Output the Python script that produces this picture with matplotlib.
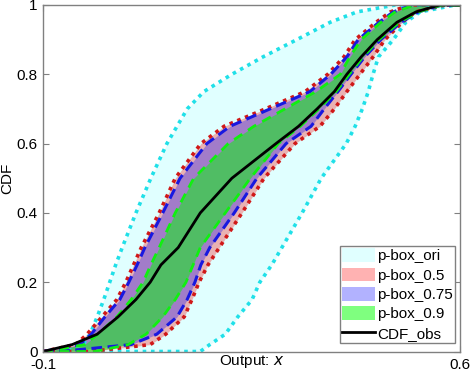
import numpy as np
import matplotlib
matplotlib.use("Agg")
import matplotlib.pyplot as plt
from matplotlib.patches import Patch
from matplotlib.lines import Line2D

plt.rcParams['font.family'] = ['Liberation Sans', 'DejaVu Sans']

# CDF levels, and the x value (quantile) of each bound at that level
p = [0, 0.02, 0.05, 0.1, 0.15, 0.2, 0.25, 0.3, 0.4, 0.5, 0.6, 0.65, 0.7, 0.75, 0.8, 0.85, 0.9, 0.95, 0.98, 1.0]

ori_lo = [-0.088, -0.033, -0.021, -0.009, 0.002, 0.012, 0.022, 0.033, 0.056, 0.081, 0.108, 0.125, 0.142, 0.170, 0.217, 0.269, 0.326, 0.382, 0.427, 0.491]
ori_hi = [0.164, 0.180, 0.206, 0.227, 0.251, 0.264, 0.284, 0.301, 0.335, 0.367, 0.409, 0.424, 0.436, 0.446, 0.454, 0.463, 0.488, 0.509, 0.533, 0.592]

b50_lo = [-0.100, -0.045, -0.026, -0.001, 0.024, 0.039, 0.052, 0.065, 0.095, 0.122, 0.165, 0.204, 0.273, 0.340, 0.378, 0.405, 0.424, 0.459, 0.483, 0.516]
b50_hi = [-0.021, 0.080, 0.106, 0.137, 0.150, 0.162, 0.177, 0.196, 0.234, 0.271, 0.323, 0.365, 0.389, 0.410, 0.432, 0.454, 0.474, 0.503, 0.525, 0.575]

b75_lo = [-0.100, -0.038, -0.019, 0.004, 0.029, 0.044, 0.058, 0.071, 0.101, 0.130, 0.175, 0.214, 0.281, 0.348, 0.383, 0.410, 0.429, 0.464, 0.488, 0.519]
b75_hi = [-0.071, 0.048, 0.091, 0.125, 0.142, 0.155, 0.165, 0.180, 0.221, 0.259, 0.308, 0.350, 0.372, 0.395, 0.417, 0.440, 0.467, 0.501, 0.530, 0.570]

b90_lo = [-0.097, -0.030, -0.008, 0.024, 0.048, 0.068, 0.081, 0.095, 0.122, 0.153, 0.211, 0.254, 0.306, 0.358, 0.399, 0.415, 0.434, 0.467, 0.491, 0.523]
b90_hi = [-0.013, 0.043, 0.073, 0.101, 0.122, 0.140, 0.152, 0.164, 0.206, 0.248, 0.295, 0.332, 0.363, 0.392, 0.414, 0.437, 0.464, 0.498, 0.530, 0.570]

cdf_obs = [-0.100, -0.051, -0.009, 0.026, 0.056, 0.080, 0.098, 0.127, 0.164, 0.217, 0.291, 0.329, 0.360, 0.389, 0.410, 0.434, 0.461, 0.494, 0.526, 0.566]

labels = ['p-box_ori', 'p-box_0.5', 'p-box_0.75', 'p-box_0.9', 'CDF_obs']
xlim = [-0.1, 0.6]


def ext(x):
    # extend a CDF flat to the axis limits (0 on the left, 1 on the right)
    return np.r_[xlim[0], x, xlim[1]], np.r_[0, p, 1]


fig = plt.figure(figsize=(4.74, 3.81), dpi=100)
ax = fig.add_axes([0.0907, 0.0774, 0.8798, 0.9095])

# fills, widest first
ax.fill_betweenx(p, ori_lo, ori_hi, color='cyan', alpha=0.12, lw=0)
ax.fill_betweenx(p, b50_lo, b50_hi, color='red', alpha=0.3, lw=0)
ax.fill_betweenx(p, b75_lo, b75_hi, color='blue', alpha=0.3, lw=0)
ax.fill_betweenx(p, b90_lo, b90_hi, color=(0, 1, 0), alpha=0.5, lw=0)

# bounds
for x in [ori_lo, ori_hi]:
    ax.plot(*ext(x), ls=(0, (1, 1.3)), color='#20E0E8', lw=2.6)
for x in [b50_lo, b50_hi]:
    ax.plot(*ext(x), ls=(0, (1, 1.3)), color='#D01818', lw=2.6)
for x in [b75_lo, b75_hi]:
    ax.plot(*ext(x), ls=(0, (3.5, 1.8)), color='#1818E0', lw=2.2)
for x in [b90_lo, b90_hi]:
    ax.plot(*ext(x), ls=(0, (3.5, 2.5)), color='#10F010', lw=2.0)
ax.plot(*ext(cdf_obs), color='black', lw=2.0)

ax.set_xlim(xlim)
ax.set_ylim(0, 1)
ax.set_xticks(xlim)
ax.set_xticklabels(['-0.1', '0.6'])
ax.set_yticks([0, 0.2, 0.4, 0.6, 0.8, 1])
ax.set_yticklabels(['0', '0.2', '0.4', '0.6', '0.8', '1'])
ax.tick_params(direction='in', top=True, right=True, labelsize=11, length=4,
               color='#808080')
ax.tick_params(axis='x', pad=5)
ax.tick_params(axis='y', pad=4)
for s in ax.spines.values():
    s.set_color('#808080')
    s.set_linewidth(1.0)

ax.set_xlabel('Output: $\\mathit{x}$', fontsize=11, labelpad=-14)
ax.set_ylabel('CDF', fontsize=11)
ax.yaxis.set_label_coords(-0.07, 0.5)

handles = [
    Patch(facecolor='cyan', alpha=0.12, edgecolor='none'),
    Patch(facecolor='red', alpha=0.3, edgecolor='none'),
    Patch(facecolor='blue', alpha=0.3, edgecolor='none'),
    Patch(facecolor=(0, 1, 0), alpha=0.5, edgecolor='none'),
    Line2D([], [], color='black', lw=2.0),
]
leg = ax.legend(handles, labels, loc='lower right', bbox_to_anchor=(0.988, 0.0245),
                fontsize=11, fancybox=False, framealpha=1, edgecolor='#808080',
                borderpad=0.15, labelspacing=0.28, handlelength=2.15,
                handleheight=1.0, handletextpad=0.15, borderaxespad=0)
leg.get_frame().set_linewidth(1.0)

fig.savefig('out.png', dpi=100)
